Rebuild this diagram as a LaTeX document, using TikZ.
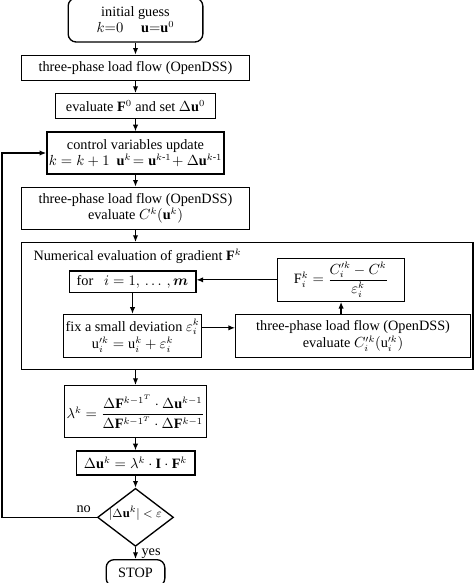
\documentclass[tikz,border=0pt]{standalone}
\usepackage{amsmath,amssymb}
\usepackage{fontspec}
\setmainfont{Liberation Serif}
\usetikzlibrary{shapes.geometric, arrows.meta, positioning, calc}
\newcommand{\mainsize}{\fontsize{10.7}{12}\selectfont}
\tikzset{
  box/.style={rectangle,draw=black,line width=1pt,fill=white,align=center,
    inner sep=1.5pt,minimum height=18.75pt,font=\mainsize},
  roundbox/.style={box,rounded corners=6pt},
  decision/.style={diamond,draw=black,line width=1pt,inner sep=0pt,
    minimum width=57pt,minimum height=43.5pt,font=\fontsize{9.5}{10}\selectfont},
  arrow/.style={-{Latex[length=5pt,width=4pt]},line width=0.9pt,draw=black}
}

\begin{document}
\begin{tikzpicture}[x=0.75pt,y=-0.75pt,node distance=9pt]
  \useasboundingbox (0,0) rectangle (474,583);
  \node[roundbox,minimum width=101pt,minimum height=33pt] (init) at (135.5,20)
    {initial guess\\ $k{=}0$ \quad $\mathbf{u}{=}\mathbf{u}^0$};
  \node[box,minimum width=171pt,below=of init] (lf1) {three-phase load flow (OpenDSS)};
  \node[box,minimum width=120pt,below=of lf1] (evf)
    {evaluate $\mathbf{F}^0$ and set $\Delta\mathbf{u}^0$};
  \node[box,minimum width=130pt,minimum height=31.5pt,below=of evf] (upd)
    {control variables update\\
     $k=k+1\enspace\mathbf{u}^k\!=\mathbf{u}^{k\text{-}1}\!+\Delta\mathbf{u}^{k\text{-}1}$};
  \node[box,minimum width=171pt,minimum height=31.5pt,below=of upd] (lf2)
    {three-phase load flow (OpenDSS)\\ evaluate $C^k(\mathbf{u}^k)$};

  % gradient block
  \node[box,minimum width=338.6pt,minimum height=95.25pt,
    below=9pt of lf2.south west,anchor=north west] (grad) {};
  \node[anchor=west,font=\mainsize] (title) at ($(grad.north west)+(8,14)$)
    {Numerical evaluation of gradient $\mathbf{F}^k$};
  \node[box,minimum width=95pt,minimum height=16pt,inner sep=1pt] (for) at (132.5,281.5)
    {for \enspace $i=1,\,\ldots\,,\boldsymbol{m}$};
  \node[box,minimum width=101pt,minimum height=32pt,below=15.75pt of for] (fix)
    {fix a small deviation $\varepsilon_i^k$\\[1pt] $\mathrm{u}'^k_i=\mathrm{u}^k_i+\varepsilon^k_i$};
  \node[box,minimum width=176pt,minimum height=32pt,right=24.75pt of fix] (lf3)
    {three-phase load flow (OpenDSS)\\[1pt] evaluate $C'^k_i(\mathrm{u}'^k_i)$};
  \node[box,minimum width=95pt,minimum height=32pt,above=9pt of lf3,xshift=-9pt] (fgr)
    {$\mathrm{F}^k_i=\dfrac{C'^k_i-C^k}{\varepsilon^k_i}$};

  \coordinate (gbot) at (lf2 |- grad.south);
  \node[box,minimum width=101pt,minimum height=39pt,below=11pt of gbot] (lam)
    {$\lambda^k=\dfrac{\Delta\mathbf{F}^{{k-1}^T}\cdot\Delta\mathbf{u}^{k-1}}
      {\Delta\mathbf{F}^{{k-1}^T}\cdot\Delta\mathbf{F}^{k-1}}$};
  \node[box,minimum width=89pt,minimum height=18pt,below=of lam] (du)
    {$\Delta\mathbf{u}^k=\lambda^k\cdot\mathbf{I}\cdot\mathbf{F}^k$};
  \node[decision,below=of du] (dec)
    {\smash{$\lvert\Delta\mathbf{u}^k\rvert<\varepsilon$}};
  \node[roundbox,minimum width=44pt,minimum height=20pt,below=of dec] (stop) {STOP};
  \coordinate (back) at (2,515);

  \draw[arrow] (init) -- (lf1);
  \draw[arrow] (lf1) -- (evf);
  \draw[arrow] (evf) -- (upd);
  \draw[arrow] (upd) -- (lf2);
  \draw[arrow] (lf2) -- (lf2 |- grad.north);
  \draw[arrow] (for.south) -- (for.south |- fix.north);
  \draw[arrow] ([yshift=6pt]fix.east) -- ([yshift=6pt]fix.east -| lf3.west);
  \draw[arrow] (lf3.north -| fgr.south) -- (fgr.south);
  \draw[arrow] (fgr.west) -- (fgr.west -| for.east);
  \draw[arrow] (gbot) -- (lam);
  \draw[arrow] (lam) -- (du);
  \draw[arrow] (du) -- (dec);
  \draw[arrow] (dec) -- (stop);
  \draw[arrow] (dec.west) -- (dec.west -| back) |- (upd.west);
  \node[font=\mainsize,above left=0pt and 1pt of dec.west] (no) {no};
  \node[font=\mainsize,below right=-2pt and 1pt of dec.south] (yes) {yes};
\end{tikzpicture}
\end{document}
